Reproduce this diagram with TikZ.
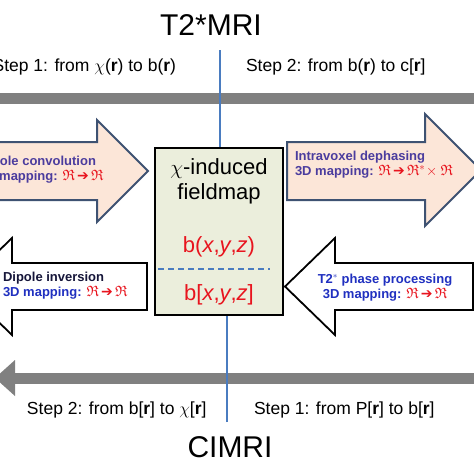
\documentclass[tikz,border=0pt]{standalone}
\usepackage{amssymb}
\usepackage{fontspec}
\setmainfont{Liberation Sans}
\newfontfamily\dejavu{DejaVu Sans}
\definecolor{barGray}{HTML}{808080}
\definecolor{lineBlue}{HTML}{4A7CC0}
\definecolor{peach}{HTML}{FCE6D8}
\definecolor{slate}{HTML}{3E5272}
\definecolor{boxFill}{HTML}{EBEEDC}
\definecolor{purp}{HTML}{4B3C9E}
\definecolor{bluetxt}{HTML}{2030C0}
\definecolor{navy}{HTML}{16163A}
\definecolor{redR}{HTML}{E8141E}
\newcommand{\RR}{\textcolor{redR}{{\fontsize{15}{15}\selectfont$\mathfrak{R}$}}}
\newcommand{\RA}{\textcolor{redR}{{\dejavu\fontsize{14}{15}\selectfont ➔}}}
\tikzset{
  txt/.style={inner sep=0pt, outer sep=0pt},
  steptxt/.style={txt, font=\fontsize{17.5}{20}\selectfont},
  titletxt/.style={txt, font=\fontsize{30}{34}\selectfont},
  boxtxt/.style={txt, font=\fontsize{22}{25}\selectfont, align=center},
  arrtxt/.style={txt, font=\bfseries\fontsize{13}{15}\selectfont},
  peacharrow/.style={fill=peach, draw=slate, line width=2pt, line join=miter},
  whitearrow/.style={fill=white, draw=black, line width=1.8pt, line join=miter},
  graybar/.style={draw=barGray, line width=11pt},
  blueline/.style={draw=lineBlue, line width=2.6pt},
}
\begin{document}
\begin{tikzpicture}[x=1pt,y=-1pt]
\useasboundingbox (0,0) rectangle (474,474);
\clip (0,0) rectangle (474,474);
\fill[white] (0,0) rectangle (474,474);

% gray bars
\coordinate (g1a) at (0,98);
\coordinate (g1b) at (480,98);
\draw[graybar] (g1a) -- (g1b);
\coordinate (g2a) at (480,378);
\coordinate (g2b) at (14,378);
\draw[graybar] (g2a) -- (g2b);
\fill[barGray] (15,360) -- (-5,378) -- (15,396) -- cycle;

% big arrows
\draw[peacharrow] (-10,142) -- (97,142) -- (97,120) -- (148,171) -- (97,222) -- (97,200) -- (-10,200) -- cycle;
\draw[peacharrow] (287,142) -- (425,142) -- (425,114) -- (481,170) -- (425,226) -- (425,200) -- (287,200) -- cycle;
\draw[whitearrow] (147,263) -- (12,263) -- (12,238) -- (-38,286.5) -- (12,335) -- (12,310) -- (147,310) -- cycle;
\draw[whitearrow] (473,263) -- (335,263) -- (335,238) -- (285,286.5) -- (335,335) -- (335,310) -- (473,310) -- cycle;

% central box
\node[draw=black, line width=1.6pt, fill=boxFill, minimum width=128pt, minimum height=167pt, inner sep=0pt] (box) at (219,231.5) {};
\node[boxtxt] (fm) at (219,181) {$\chi$-induced\\fieldmap};
\node[boxtxt, text=redR] (bc) at (219,247) {b(\textit{x},\textit{y},\textit{z})};
\node[boxtxt, text=redR] (bd) at (219,295) {b[\textit{x},\textit{y},\textit{z}]};
\coordinate (dl) at (158,269);
\coordinate (dr) at (270,269);
\draw[lineBlue, line width=1.4pt, dash pattern=on 6pt off 4pt] (dl) -- (dr);

% blue vertical lines
\coordinate (t1) at (220,50);
\draw[blueline] (t1) -- (t1 |- box.north);
\coordinate (b1) at (227,422);
\draw[blueline] (b1) -- (b1 |- box.south);

% titles
\node[titletxt] (t2) at (211,25) {T2*MRI};
\node[titletxt] (ci) at (230,447) {CIMRI};

% step texts
\node[steptxt, anchor=east] (s1) at (176,67) {Step 1: from $\chi$(\textbf{r}) to b(\textbf{r})};
\node[steptxt, anchor=west] (s2) at (246,67) {Step 2: from b(\textbf{r}) to c[\textbf{r}]};
\node[steptxt, anchor=west] (s3) at (27,410) {Step 2: from b[\textbf{r}] to $\chi$[\textbf{r}]};
\node[steptxt, anchor=west] (s4) at (254,410) {Step 1: from P[\textbf{r}] to b[\textbf{r}]};

% arrow texts
\node[arrtxt, anchor=west, align=left, text=purp] (a1) at (-21,170) {Dipole convolution\\3D mapping: \RR\,\RA\,\RR};
\node[arrtxt, anchor=west, align=left, text=purp] (a2) at (295,165) {Intravoxel dephasing\\3D mapping: \RR\,\RA\,\textcolor{redR}{{\fontsize{15}{15}\selectfont$\mathfrak{R}^{*}\!\times\mathfrak{R}$}}};
\node[arrtxt, anchor=west, align=left, text=bluetxt] (a3) at (3,285.5) {\textcolor{navy}{Dipole inversion}\\3D mapping: \RR\,\RA\,\RR};
\node[arrtxt, anchor=center, align=center, text=bluetxt] (a4) at (385,287.5) {T2$^{*}$ phase processing\\3D mapping: \RR\,\RA\,\RR};
\end{tikzpicture}
\end{document}
